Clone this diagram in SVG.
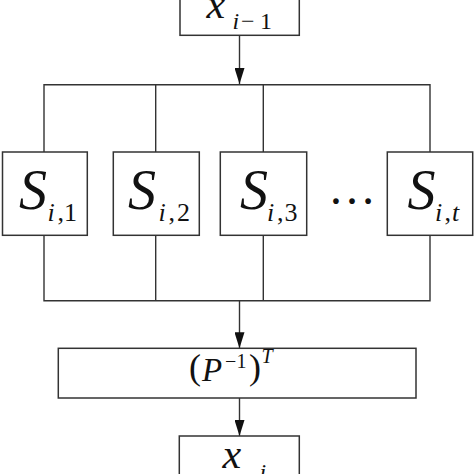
<svg xmlns="http://www.w3.org/2000/svg" width="474" height="474" viewBox="0 0 474 474">
<style>
.box{fill:#fff;stroke:#333;stroke-width:1.5}
.ln{fill:none;stroke:#333;stroke-width:1.4}
text{font-family:"Liberation Serif","Times New Roman",serif;fill:#111}
.it{font-style:italic}
.big{font-size:56px;font-style:italic}
.sub{font-size:26px}
.xv{font-size:42px;font-style:italic}
.xs{font-size:24px}
</style>
<defs>
<marker id="ah" viewBox="0 0 16 10" refX="16" refY="5" markerWidth="16" markerHeight="10" markerUnits="userSpaceOnUse" orient="auto">
<path d="M0,0 L16,5 L0,10 z" fill="#111"/>
</marker>
</defs>
<rect width="474" height="474" fill="#fff"/>
<g id="connectors">
<line class="ln" x1="239.5" y1="35.3" x2="239.5" y2="84" marker-end="url(#ah)"/>
<polyline class="ln" points="44,152 44,84.7 430,84.7 430,152"/>
<line class="ln" x1="155.7" y1="84.7" x2="155.7" y2="152"/>
<line class="ln" x1="263.3" y1="84.7" x2="263.3" y2="152"/>
<polyline class="ln" points="44,235.3 44,300.7 430,300.7 430,235.3"/>
<line class="ln" x1="155.7" y1="235.3" x2="155.7" y2="300.7"/>
<line class="ln" x1="263.3" y1="235.3" x2="263.3" y2="300.7"/>
<line class="ln" x1="239.5" y1="300.7" x2="239.5" y2="348.3" marker-end="url(#ah)"/>
<line class="ln" x1="239.5" y1="398" x2="239.5" y2="436" marker-end="url(#ah)"/>
</g>
<g id="x_prev">
<rect class="box" x="180" y="-20" width="119.3" height="55.3"/>
<text class="xv" x="206.5" y="18.3">x</text>
<text class="xs" y="29.3"><tspan class="it" x="232.5">i</tspan><tspan x="241">−</tspan><tspan x="260">1</tspan></text>
</g>
<g id="S1">
<rect class="box" x="2.5" y="152" width="84.8" height="83.3"/>
<text class="big" x="19" y="209">S</text>
<text class="sub" y="221"><tspan class="it" x="47.5">i</tspan><tspan x="57.5">,</tspan><tspan x="64">1</tspan></text>
</g>
<g id="S2">
<rect class="box" x="113.3" y="152" width="86" height="83.3"/>
<text class="big" x="128" y="209">S</text>
<text class="sub" y="221"><tspan class="it" x="158.5">i</tspan><tspan x="168.5">,</tspan><tspan x="177">2</tspan></text>
</g>
<g id="S3">
<rect class="box" x="220.3" y="152" width="86.4" height="83.3"/>
<text class="big" x="240" y="209">S</text>
<text class="sub" y="221"><tspan class="it" x="267">i</tspan><tspan x="277">,</tspan><tspan x="284.5">3</tspan></text>
</g>
<g id="dots">
<text x="328" y="204" style="font-size:48px">…</text>
</g>
<g id="St">
<rect class="box" x="387.3" y="152" width="85.4" height="83.3"/>
<text class="big" x="407.5" y="209">S</text>
<text class="sub" y="221"><tspan class="it" x="435">i</tspan><tspan x="444.5">,</tspan><tspan class="it" x="452">t</tspan></text>
</g>
<g id="P">
<rect class="box" x="58.3" y="348.3" width="357.7" height="49.7"/>
<text style="font-size:36px" x="189" y="379">(</text>
<text class="it" style="font-size:33px" x="202" y="381">P</text>
<text style="font-size:20px" y="367.7"><tspan x="225">−</tspan><tspan x="236.5">1</tspan></text>
<text style="font-size:36px" x="249" y="379">)</text>
<text class="it" style="font-size:20px" x="261.5" y="362.5">T</text>
</g>
<g id="x_i">
<rect class="box" x="179.3" y="436" width="120" height="60"/>
<text class="xv" x="222.5" y="468.3">x</text>
<text class="xs it" x="259.5" y="480">i</text>
</g>
</svg>
